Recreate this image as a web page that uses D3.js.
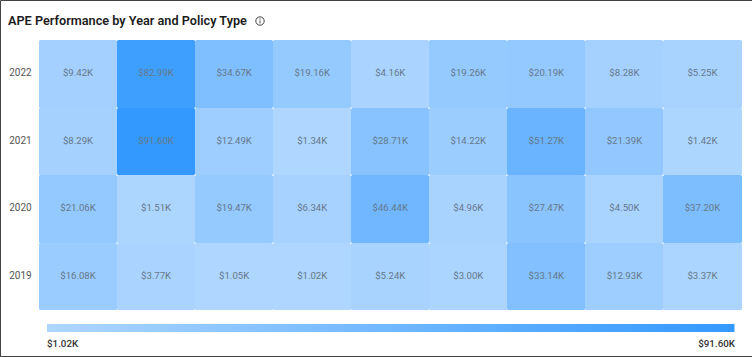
<!DOCTYPE html>
<html>
<head>
<meta charset="utf-8">
<script src="https://cdn.jsdelivr.net/npm/d3@7"></script>
<style>
  html, body { margin: 0; padding: 0; background: #fff; }
  svg { display: block; font-family: Roboto, sans-serif; }
</style>
</head>
<body>
<div id="chart"></div>
<script>
const years = ["2022", "2021", "2020", "2019"];
const policyTypes = ["A", "B", "C", "D", "E", "F", "G", "H", "I"];
const values2022 = [9.42, 82.99, 34.67, 19.16, 4.16, 19.26, 20.19, 8.28, 5.25];
const values2021 = [8.29, 91.60, 12.49, 1.34, 28.71, 14.22, 51.27, 21.39, 1.42];
const values2020 = [21.06, 1.51, 19.47, 6.34, 46.44, 4.96, 27.47, 4.50, 37.20];
const values2019 = [16.08, 3.77, 1.05, 1.02, 5.24, 3.00, 33.14, 12.93, 3.37];
const rows = [values2022, values2021, values2020, values2019];

const width = 752, height = 357;
const fmt = d => "$" + d.toFixed(2) + "K";

const svg = d3.select("#chart").append("svg")
  .attr("width", width)
  .attr("height", height);

// frame
svg.append("path")
  .attr("d", `M0.5,${height}V0.5H${width}M0,${height - 0.5}H${width}`)
  .attr("fill", "none")
  .attr("stroke", "#444");

svg.append("text")
  .attr("x", 8)
  .attr("y", 25)
  .attr("font-size", 12.7)
  .attr("font-weight", 600)
  .attr("fill", "#1c1c1c")
  .text("APE Performance by Year and Policy Type");

// info icon
const info = svg.append("g").attr("transform", "translate(260,21)");
info.append("circle").attr("r", 4.2).attr("fill", "none").attr("stroke", "#444").attr("stroke-width", 1);
info.append("line").attr("y1", -0.6).attr("y2", 2.4).attr("stroke", "#444").attr("stroke-width", 1);
info.append("circle").attr("cy", -2.1).attr("r", 0.6).attr("fill", "#444");

const x = d3.scaleBand().domain(policyTypes).range([39, 741.5]).padding(0);
const y = d3.scaleBand().domain(years).range([40, 310]).padding(0);
const extent = d3.extent(rows.flat());
const color = d3.scaleLinear().domain(extent).range(["#aed6ff", "#3399ff"]);

const cells = svg.append("g").selectAll("g")
  .data(rows.flatMap((r, i) => r.map((v, j) => ({ year: years[i], type: policyTypes[j], v }))))
  .join("g");

// snapped to whole pixels so neighbouring cells leave no seam
cells.append("rect")
  .attr("x", d => Math.round(x(d.type)))
  .attr("y", d => Math.round(y(d.year)))
  .attr("width", d => Math.round(x(d.type) + x.bandwidth()) - Math.round(x(d.type)))
  .attr("height", d => Math.round(y(d.year) + y.bandwidth()) - Math.round(y(d.year)))
  .attr("rx", 1.5)
  .attr("fill", d => color(d.v));

cells.append("text")
  .attr("x", d => x(d.type) + x.bandwidth() / 2)
  .attr("y", d => y(d.year) + y.bandwidth() / 2 - 1)
  .attr("dy", "0.35em")
  .attr("text-anchor", "middle")
  .attr("font-size", 9.6)
  .attr("fill", "#66788a")
  .text(d => fmt(d.v));

svg.append("g").selectAll("text")
  .data(years)
  .join("text")
  .attr("x", 20.5)
  .attr("y", d => y(d) + y.bandwidth() / 2 - 1)
  .attr("dy", "0.35em")
  .attr("text-anchor", "middle")
  .attr("font-size", 10)
  .attr("fill", "#555")
  .text(d => d);

// legend
const grad = svg.append("defs").append("linearGradient").attr("id", "legend-grad");
grad.append("stop").attr("offset", "0%").attr("stop-color", color(extent[0]));
grad.append("stop").attr("offset", "100%").attr("stop-color", color(extent[1]));

svg.append("rect")
  .attr("x", 47).attr("y", 324)
  .attr("width", 687.5).attr("height", 8)
  .attr("fill", "url(#legend-grad)");

svg.append("text")
  .attr("x", 47).attr("y", 347)
  .attr("font-size", 9.8).attr("font-weight", 500).attr("fill", "#333")
  .text(fmt(extent[0]));

svg.append("text")
  .attr("x", 735).attr("y", 347)
  .attr("text-anchor", "end")
  .attr("font-size", 9.8).attr("font-weight", 500).attr("fill", "#333")
  .text(fmt(extent[1]));
</script>
</body>
</html>
